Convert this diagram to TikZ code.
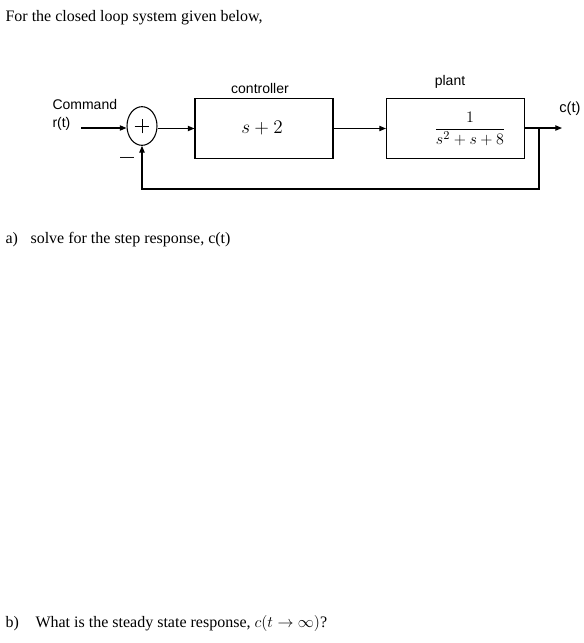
\documentclass[tikz,border=0pt]{standalone}
\usepackage{fontspec}
\setmainfont{Liberation Serif}
\setsansfont{Liberation Sans}
\usetikzlibrary{arrows.meta,shapes.geometric}
\begin{document}
\begin{tikzpicture}[x=0.75pt,y=-0.75pt,
  line width=0.8pt,
  txt/.style={font=\fontsize{12}{14}\selectfont, inner sep=0pt},
  lab/.style={font=\sffamily\fontsize{10.5}{12}\selectfont, inner sep=0pt},
  blk/.style={draw, minimum width=103.5pt, minimum height=45pt, inner sep=0pt},
  arr/.style={-{Triangle[length=5pt,width=4pt]}}]
\useasboundingbox (0,0) rectangle (584,643);

\node[txt, anchor=base west] (title) at (5,21) {For the closed loop system given below,};

% blocks
\node[draw, ellipse, minimum width=22.5pt, minimum height=29pt, inner sep=0pt] (sum) at (142,126) {};
\draw[line width=0.6pt] ([xshift=-5.6pt]sum.center) -- ([xshift=5.6pt]sum.center);
\draw[line width=0.6pt] ([yshift=-5.6pt]sum.center) -- ([yshift=5.6pt]sum.center);
\node[blk] (ctrl) at (264,128.5) {};
\node[font=\fontsize{15.5}{18}\selectfont, inner sep=0pt] (ctrltf) at (262,128) {$s+2$};
\node[blk] (plant) at (455.5,128.5) {};
\node[font=\fontsize{13}{15}\selectfont, inner sep=0pt] (planttf) at (470,129) {$\displaystyle\frac{1}{s^2+s+8}$};

% labels
\node[lab, anchor=base west] (cmd) at (52,109) {Command};
\node[lab, anchor=base west] (rt) at (52,127) {r(t)};
\node[lab, anchor=base] (ctrllab) at (260,93) {controller};
\node[lab, anchor=base] (plantlab) at (450,85) {plant};
\node[lab, anchor=base east, font=\sffamily\fontsize{11}{13}\selectfont] (ct) at (581,112) {c(t)};
\node[lab] (minus) at (127,159) {—};

% connectors
\coordinate (in) at (81,128);
\coordinate (out) at (562,128);
\coordinate (br) at (539,128);
\coordinate (fb) at (539,189);
\draw[arr] (in) -- (sum.west |- in);
\draw[arr] (sum.east |- ctrl.west) -- (ctrl.west);
\draw[arr] (ctrl.east) -- (plant.west);
\draw[arr] (plant.east |- out) -- (out);
\draw[arr] (br) -- (fb) -- (sum.center |- fb) -- (sum.south);

% questions
\node[txt, anchor=base west] (qa) at (5,243) {a)};
\node[txt, anchor=base west] (qatext) at (30,243) {solve for the step response, c(t)};
\node[txt, anchor=base west] (qb) at (5,627) {b)};
\node[txt, anchor=base west] (qbtext) at (35,627) {What is the steady state response, $c(t\rightarrow\infty)$?};
\end{tikzpicture}
\end{document}
